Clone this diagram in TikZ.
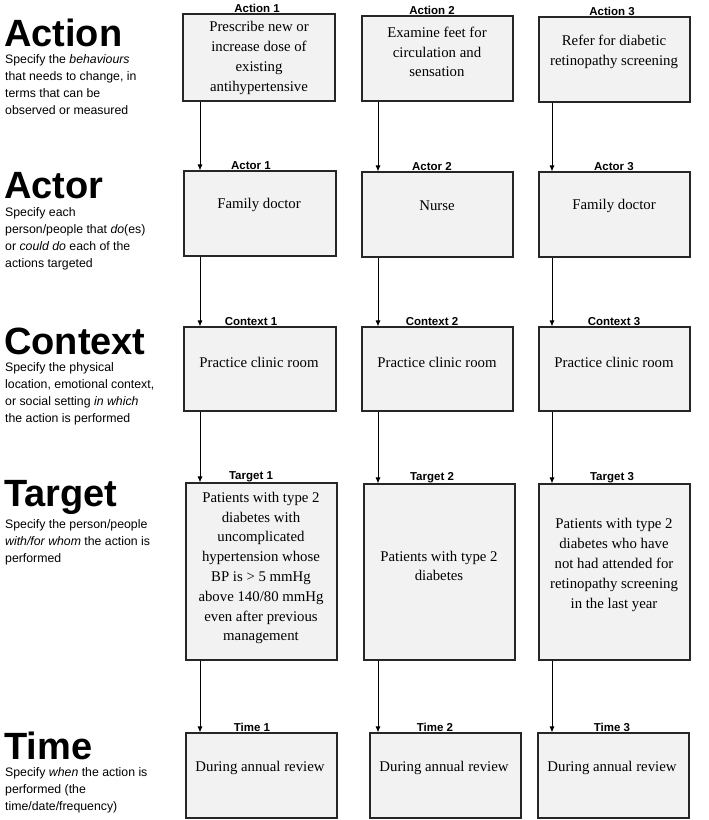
\documentclass[tikz,border=0pt]{standalone}
\usepackage{fontspec}
\setmainfont{Liberation Serif}
\newfontfamily\arialf{Liberation Sans}
\usetikzlibrary{arrows.meta}
\begin{document}
\begin{tikzpicture}[x=1pt,y=-1pt,
  box/.style={draw=black!85,line width=1.1pt,fill=black!5,inner sep=0pt},
  btext/.style={align=center,font=\fontsize{14.8}{19.8}\selectfont},
  lbl/.style={font=\arialf\bfseries\fontsize{11.5}{13}\selectfont,anchor=south,inner sep=1pt},
  head/.style={font=\arialf\bfseries\fontsize{38}{38}\selectfont,anchor=west,inner sep=0pt},
  desc/.style={font=\arialf\fontsize{12.3}{17}\selectfont,anchor=north west,align=left,inner sep=0pt},
  arr/.style={-{Latex[length=6pt,width=5pt]},line width=0.9pt}]
\path[use as bounding box] (0,0) rectangle (709,820);
% left column
\node[head] (hA) at (4,33) {Action};
\node[desc] (dA) at (5,54) {Specify the \emph{behaviours}\\that needs to change, in\\terms that can be\\observed or measured};
\node[head] (hB) at (4,186) {Actor};
\node[desc] (dB) at (5,207) {Specify each\\person/people that \emph{do}(es)\\or \emph{could do} each of the\\actions targeted};
\node[head] (hC) at (4,341) {Context};
\node[desc] (dC) at (5,362) {Specify the physical\\location, emotional context,\\or social setting \emph{in which}\\the action is performed};
\node[head] (hD) at (4,497) {Target};
\node[desc] (dD) at (5,519) {Specify the person/people\\\emph{with/for whom} the action is\\performed};
\node[head] (hE) at (4,746) {Time};
\node[desc] (dE) at (5,767) {Specify \emph{when} the action is\\performed (the\\time/date/frequency)};
% Row 1 Action
\node[box,minimum width=152pt,minimum height=87pt] (a1) at (259,57.5) {};
\node[box,minimum width=151pt,minimum height=85pt] (a2) at (437.5,58.5) {};
\node[box,minimum width=151pt,minimum height=85pt] (a3) at (614.5,59.5) {};
% Row 2 Actor
\node[box,minimum width=152pt,minimum height=85pt] (b1) at (260,213.5) {};
\node[box,minimum width=151pt,minimum height=85pt] (b2) at (437.5,214.5) {};
\node[box,minimum width=151pt,minimum height=85pt] (b3) at (614.5,214.5) {};
% Row 3 Context
\node[box,minimum width=152pt,minimum height=84pt] (c1) at (260,369) {};
\node[box,minimum width=151pt,minimum height=84pt] (c2) at (437.5,369) {};
\node[box,minimum width=151pt,minimum height=84pt] (c3) at (614.5,369) {};
% Row 4 Target
\node[box,minimum width=151pt,minimum height=177pt] (t1) at (261.5,571.5) {};
\node[box,minimum width=151pt,minimum height=176pt] (t2) at (439.5,572) {};
\node[box,minimum width=151pt,minimum height=176pt] (t3) at (614.5,572) {};
% Row 5 Time
\node[box,minimum width=151pt,minimum height=85pt] (e1) at (261.5,775.5) {};
\node[box,minimum width=151pt,minimum height=85pt] (e2) at (445.5,775.5) {};
\node[box,minimum width=151pt,minimum height=85pt] (e3) at (613.5,775.5) {};
% texts
\node[btext] (ta1) at (259,58) {Prescribe new or\\increase dose of\\existing\\antihypertensive};
\node[btext] (ta2) at (437,52) {Examine feet for\\circulation and\\sensation};
\node[btext] (ta3) at (614,52) {Refer for diabetic\\retinopathy screening};
\node[btext] (tb1) at (259,205) {Family doctor};
\node[btext] (tb2) at (437,206) {Nurse};
\node[btext] (tb3) at (614,206) {Family doctor};
\node[btext] (tc1) at (259,362) {Practice clinic room};
\node[btext] (tc2) at (437,362) {Practice clinic room};
\node[btext] (tc3) at (614,362) {Practice clinic room};
\node[btext] (tt1) at (261,568) {Patients with type 2\\diabetes with\\uncomplicated\\hypertension whose\\BP is > 5 mmHg\\above 140/80 mmHg\\even after previous\\management};
\node[btext] (tt2) at (439,566) {Patients with type 2\\diabetes};
\node[btext] (tt3) at (614,565) {Patients with type 2\\diabetes who have\\not had attended for\\retinopathy screening\\in the last year};
\node[btext] (te1) at (260,768) {During annual review};
\node[btext] (te2) at (444,768) {During annual review};
\node[btext] (te3) at (612,768) {During annual review};
% labels
\node[lbl] (la1) at (257,14) {Action 1};
\node[lbl] (la2) at (432,16) {Action 2};
\node[lbl] (la3) at (612,17) {Action 3};
\node[lbl] (lb1) at (251,171) {Actor 1};
\node[lbl] (lb2) at (432,172) {Actor 2};
\node[lbl] (lb3) at (614,172) {Actor 3};
\node[lbl] (lc1) at (251,327) {Context 1};
\node[lbl] (lc2) at (432,327) {Context 2};
\node[lbl] (lc3) at (614,327) {Context 3};
\node[lbl] (lt1) at (251,483) {Target 1};
\node[lbl] (lt2) at (432,484) {Target 2};
\node[lbl] (lt3) at (612,484) {Target 3};
\node[lbl] (le1) at (252,733) {Time 1};
\node[lbl] (le2) at (435,733) {Time 2};
\node[lbl] (le3) at (612,733) {Time 3};
% arrow columns
\coordinate (x1) at (200,0);
\coordinate (x2) at (378,0);
\coordinate (x3) at (552,0);
\draw[arr] (a1.south -| x1) -- (b1.north -| x1);
\draw[arr] (b1.south -| x1) -- (c1.north -| x1);
\draw[arr] (c1.south -| x1) -- (t1.north -| x1);
\draw[arr] (t1.south -| x1) -- (e1.north -| x1);
\draw[arr] (a2.south -| x2) -- (b2.north -| x2);
\draw[arr] (b2.south -| x2) -- (c2.north -| x2);
\draw[arr] (c2.south -| x2) -- (t2.north -| x2);
\draw[arr] (t2.south -| x2) -- (e2.north -| x2);
\draw[arr] (a3.south -| x3) -- (b3.north -| x3);
\draw[arr] (b3.south -| x3) -- (c3.north -| x3);
\draw[arr] (c3.south -| x3) -- (t3.north -| x3);
\draw[arr] (t3.south -| x3) -- (e3.north -| x3);
\end{tikzpicture}
\end{document}
